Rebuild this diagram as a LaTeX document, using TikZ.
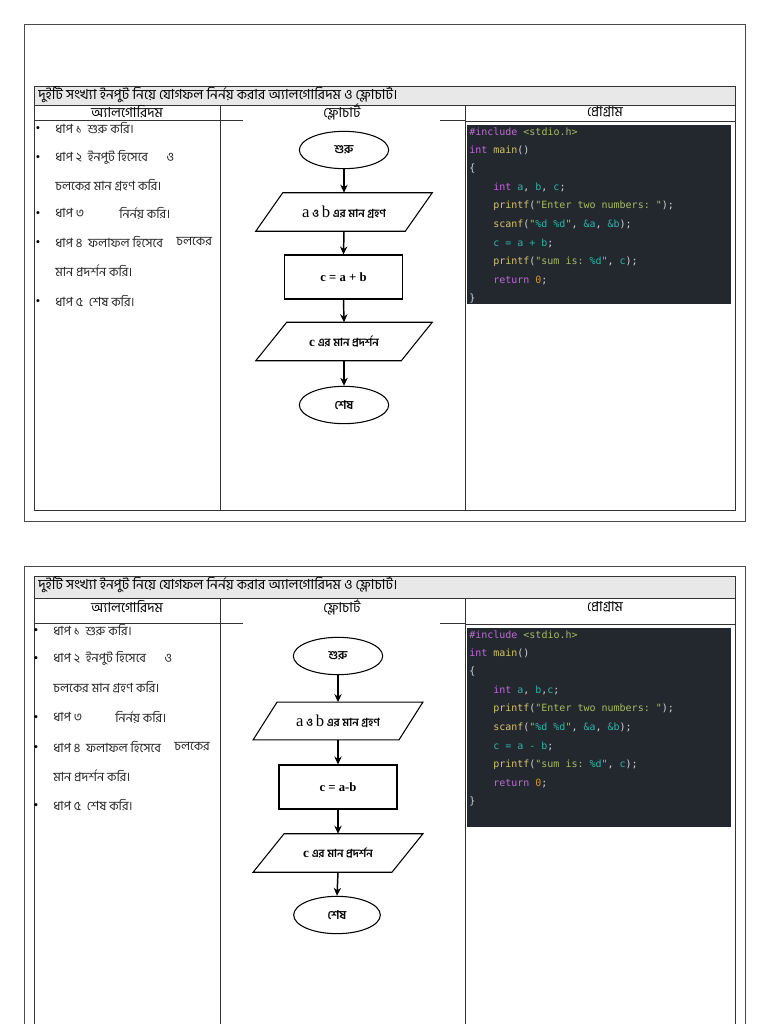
\documentclass[tikz,border=0pt]{standalone}
\usepackage{fontspec}
\setmonofont{DejaVu Sans Mono}
\newfontfamily\bn[Script=Bengali]{Hind Siliguri}
\newfontfamily\lser{Liberation Serif}
\usetikzlibrary{calc,shapes.geometric,arrows.meta}
\definecolor{codebg}{HTML}{23272E}
\definecolor{ckwc}{HTML}{C06BD8}
\definecolor{cfnc}{HTML}{D8C46C}
\definecolor{cstrc}{HTML}{A9BC62}
\definecolor{cvarc}{HTML}{2BB5AA}
\definecolor{cnumc}{HTML}{D3962E}
\definecolor{cplain}{HTML}{D4D4D4}
\definecolor{titlebg}{HTML}{E8E8E8}
\definecolor{frame}{HTML}{4A4A4A}
\newcommand\ckw[1]{\textcolor{ckwc}{#1}}
\newcommand\cfn[1]{\textcolor{cfnc}{#1}}
\newcommand\cstr[1]{\textcolor{cstrc}{#1}}
\newcommand\cvr[1]{\textcolor{cvarc}{#1}}
\newcommand\cnm[1]{\textcolor{cnumc}{#1}}
\tikzset{
  tline/.style={draw=black!80, line width=0.6pt},
  oframe/.style={draw=frame, line width=0.7pt},
  title/.style={anchor=west, inner sep=0, font=\bn\fontsize{10.4}{12}\selectfont},
  head/.style={inner sep=0, font=\bn\fontsize{10.3}{12}\selectfont},
  alg/.style={anchor=west, inner sep=0, font=\bn\fontsize{9.5}{11}\selectfont, text=black!85},
  bul/.style={inner sep=0, font=\fontsize{8}{10}\selectfont},
  code/.style={anchor=west, inner sep=0, font=\ttfamily\fontsize{7.5}{9}\selectfont, text=cplain},
  term/.style={ellipse, draw, line width=0.8pt, minimum width=67pt, minimum height=28pt, inner sep=0, font=\bn\bfseries\fontsize{9}{10}\selectfont},
  proc/.style={rectangle, draw, line width=0.8pt, inner sep=0, font=\lser\bfseries\fontsize{9.5}{10}\selectfont},
  iobox/.style={rectangle, inner sep=0, font=\bn\bfseries\fontsize{8.3}{9}\selectfont},
  ab/.style={},
  fline/.style={line width=0.8pt},
  arr/.style={line width=1.1pt, -{Stealth[length=6pt,width=5.5pt]}}
}
\newcommand\serab[1]{{\lser\mdseries\fontsize{12.5}{10}\selectfont #1}}
\newcommand\serc[1]{{\lser\bfseries\fontsize{10}{10}\selectfont #1}}
\begin{document}
\begin{tikzpicture}[x=0.75pt,y=-0.75pt]
\useasboundingbox (0,0) rectangle (768,1024);
\clip (0,0) rectangle (768,1024);
\fill[white] (0,0) rectangle (768,1024);

%% ================= TOP PAGE =================
\draw[oframe] (24,24) rectangle (745,521);
\fill[titlebg] (34,86) rectangle (735,105);
\draw[tline] (34,86) rectangle (735,510);
\draw[tline] (34,105) -- (735,105);
\draw[tline] (220,105) -- (220,510);
\draw[tline] (465,105) -- (465,510);
\draw[tline] (34,120) -- (220,120);
\draw[tline] (220,120) -- (243,120);
\draw[tline] (440,120) -- (465,120);
\draw[tline] (465,121) -- (735,121);

\node[title] (t1) at (38,95) {দুইটি সংখ্যা ইনপুট নিয়ে যোগফল নির্নয় করার অ্যালগোরিদম ও ফ্লোচার্ট।};
\node[head] (h1a) at (127,112) {অ্যালগোরিদম};
\node[head] (h1b) at (342,112) {ফ্লোচার্ট};
\node[head] (h1c) at (605,112) {প্রোগ্রাম};

% algorithm
\node[bul] (b11) at (38,129) {\textbullet};
\node[alg] (a11) at (55,128) {ধাপ ১\ \ শুরু করি।};
\node[bul] (b12) at (38,158) {\textbullet};
\node[alg] (a12) at (55,157) {ধাপ ২\ \ ইনপুট হিসেবে};
\node[alg] (a12b) at (166,157) {ও};
\node[alg] (a13) at (55,185) {চলকের মান গ্রহণ করি।};
\node[bul] (b14) at (38,214) {\textbullet};
\node[alg] (a14) at (55,213) {ধাপ ৩};
\node[alg] (a14b) at (119,213) {নির্নয় করি।};
\node[bul] (b15) at (38,243) {\textbullet};
\node[alg] (a15) at (55,242) {ধাপ ৪\ \ ফলাফল হিসেবে};
\node[alg] (a15b) at (176,242) {চলকের};
\node[alg] (a16) at (55,271) {মান প্রদর্শন করি।};
\node[bul] (b17) at (38,302) {\textbullet};
\node[alg] (a17) at (55,301) {ধাপ ৫\ \ শেষ করি।};

% flowchart
\node[term] (s1) at (344,150) {শুরু};
\node[iobox, minimum width=132pt, minimum height=28.5pt] (p11) at (344,212)
  {\serab{a} ও \serab{b} এর মান গ্রহণ};
\draw[fline] ($(p11.north west)+(27,0)$) -- (p11.north east) -- ($(p11.south east)+(-27,0)$) -- (p11.south west) -- cycle;
\node[proc, minimum width=89pt, minimum height=33pt] (r1) at (343.5,277) {c = a + b};
\node[iobox, minimum width=132pt, minimum height=28.5pt] (p12) at (344,341.5)
  {\serc{c} এর মান প্রদর্শন};
\draw[fline] ($(p12.north west)+(31,0)$) -- (p12.north east) -- ($(p12.south east)+(-31,0)$) -- (p12.south west) -- cycle;
\node[term] (e1) at (344,405) {শেষ};
\draw[arr] (s1.south) -- (p11.north);
\draw[arr] (p11.south) -- (r1.north);
\draw[arr] (r1.south) -- (p12.north);
\draw[arr] (p12.south) -- (e1.north);

% code
\fill[codebg] (467,125) rectangle (731,304);
\node[code] (c11) at (469,132) {\ckw{\#include} \cstr{<stdio.h>}};
\node[code] (c12) at (469,150.5) {\ckw{int} \cfn{main}()};
\node[code] (c13) at (469,169) {\{};
\node[code] (c14) at (493,187.5) {\ckw{int} \cvr{a}, \cvr{b}, \cvr{c};};
\node[code] (c15) at (493,206) {\cfn{printf}(\cstr{"Enter two numbers: "});};
\node[code] (c16) at (493,224.5) {\cfn{scanf}(\cstr{"\cvr{\%d} \cvr{\%d}"}, \cvr{\&a}, \cvr{\&b});};
\node[code] (c17) at (493,243) {\cvr{c = a + b};};
\node[code] (c18) at (493,261.5) {\cfn{printf}(\cstr{"sum is: \cvr{\%d}"}, \cvr{c});};
\node[code] (c19) at (493,280) {\ckw{return} \cnm{0};};
\node[code] (c110) at (469,298.5) {\}};

%% ================= BOTTOM PAGE =================
\draw[oframe] (24,566) rectangle (745,1040);
\fill[titlebg] (34,576) rectangle (735,598);
\draw[tline] (34,576) rectangle (735,1035);
\draw[tline] (34,598) -- (735,598);
\draw[tline] (220,598) -- (220,1035);
\draw[tline] (465,598) -- (465,1035);
\draw[tline] (34,623) -- (220,623);
\draw[tline] (220,623) -- (243,623);
\draw[tline] (440,623) -- (465,623);
\draw[tline] (465,624) -- (735,624);

\node[title] (t2) at (38,585) {দুইটি সংখ্যা ইনপুট নিয়ে যোগফল নির্নয় করার অ্যালগোরিদম ও ফ্লোচার্ট।};
\node[head] (h2a) at (127,607) {অ্যালগোরিদম};
\node[head] (h2b) at (342,607) {ফ্লোচার্ট};
\node[head] (h2c) at (605,607) {প্রোগ্রাম};

\node[bul] (b21) at (36,631) {\textbullet};
\node[alg] (a21) at (53,630) {ধাপ ১\ \ শুরু করি।};
\node[bul] (b22) at (36,659) {\textbullet};
\node[alg] (a22) at (53,658) {ধাপ ২\ \ ইনপুট হিসেবে};
\node[alg] (a22b) at (164,658) {ও};
\node[alg] (a23) at (53,687) {চলকের মান গ্রহণ করি।};
\node[bul] (b24) at (36,718) {\textbullet};
\node[alg] (a24) at (53,717) {ধাপ ৩};
\node[alg] (a24b) at (115,717) {নির্নয় করি।};
\node[bul] (b25) at (36,748) {\textbullet};
\node[alg] (a25) at (53,747) {ধাপ ৪\ \ ফলাফল হিসেবে};
\node[alg] (a25b) at (174,747) {চলকের};
\node[alg] (a26) at (53,776) {মান প্রদর্শন করি।};
\node[bul] (b27) at (36,806) {\textbullet};
\node[alg] (a27) at (53,805) {ধাপ ৫\ \ শেষ করি।};

\node[term] (s2) at (338,656) {শুরু};
\node[iobox, minimum width=127pt, minimum height=28pt] (p21) at (338,721)
  {\serab{a} ও \serab{b} এর মান গ্রহণ};
\draw[fline] ($(p21.north west)+(24,0)$) -- (p21.north east) -- ($(p21.south east)+(-24,0)$) -- (p21.south west) -- cycle;
\node[proc, minimum width=88.5pt, minimum height=33pt] (r2) at (338,787) {c = a-b};
\node[iobox, minimum width=127pt, minimum height=28.5pt] (p22) at (338,853)
  {\serc{c} এর মান প্রদর্শন};
\draw[fline] ($(p22.north west)+(31,0)$) -- (p22.north east) -- ($(p22.south east)+(-31,0)$) -- (p22.south west) -- cycle;
\node[term, minimum width=65pt] (e2) at (337,915) {শেষ};
\draw[arr] (s2.south) -- (p21.north);
\draw[arr] (p21.south) -- (r2.north);
\draw[arr] (r2.south) -- (p22.north);
\draw[arr] (p22.south) -- (e2.north);

\fill[codebg] (467,628) rectangle (731,827);
\node[code] (c21) at (469,635) {\ckw{\#include} \cstr{<stdio.h>}};
\node[code] (c22) at (469,653.5) {\ckw{int} \cfn{main}()};
\node[code] (c23) at (469,672) {\{};
\node[code] (c24) at (493,690.5) {\ckw{int} \cvr{a}, \cvr{b},\cvr{c};};
\node[code] (c25) at (493,709) {\cfn{printf}(\cstr{"Enter two numbers: "});};
\node[code] (c26) at (493,727.5) {\cfn{scanf}(\cstr{"\cvr{\%d} \cvr{\%d}"}, \cvr{\&a}, \cvr{\&b});};
\node[code] (c27) at (493,746) {\cvr{c = a - b};};
\node[code] (c28) at (493,764.5) {\cfn{printf}(\cstr{"sum is: \cvr{\%d}"}, \cvr{c});};
\node[code] (c29) at (493,783) {\ckw{return} \cnm{0};};
\node[code] (c210) at (469,801.5) {\}};
\end{tikzpicture}
\end{document}
